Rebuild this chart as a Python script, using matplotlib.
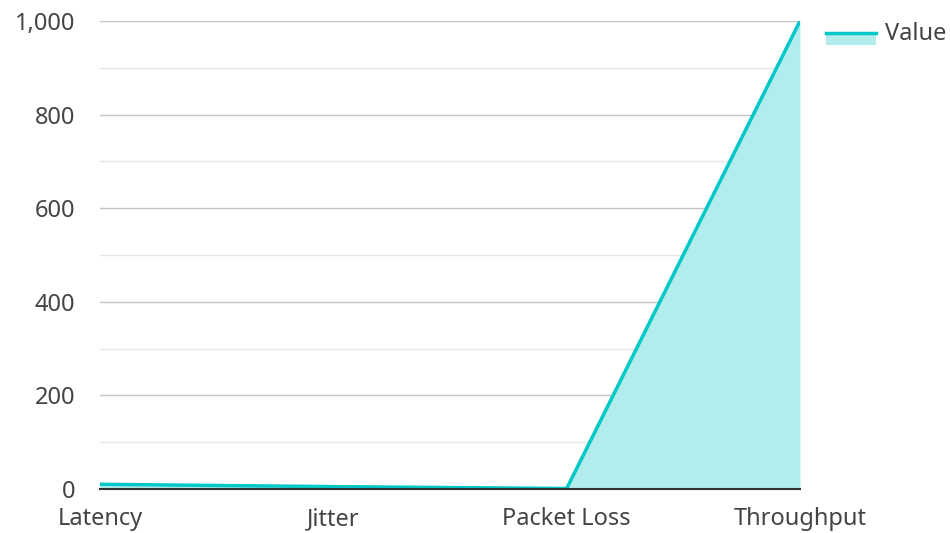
import matplotlib.pyplot as plt
from matplotlib.patches import Rectangle
from matplotlib.lines import Line2D
from matplotlib.ticker import MultipleLocator, FuncFormatter

plt.rcParams['font.family'] = ['Noto Sans', 'DejaVu Sans']

metrics = ['Latency', 'Jitter', 'Packet Loss', 'Throughput']
values = [10, 5, 1, 1000]

line_col = '#00c8c8'
fill_col = '#b2ecec'
text_col = '#444444'
fs = 17

fig = plt.figure(figsize=(9.5, 5.33), dpi=100)
ax = fig.add_axes([0.1053, 0.0826, 0.7368, 0.878])

x = range(len(metrics))
ax.fill_between(x, values, 0, color=fill_col, lw=0, zorder=2)
ax.plot(x, values, color=line_col, lw=2.5, zorder=3)

ax.set_xlim(0, len(metrics) - 1)
ax.set_ylim(0, 1000)
ax.yaxis.set_major_locator(MultipleLocator(200))
ax.yaxis.set_minor_locator(MultipleLocator(100))
ax.yaxis.set_major_formatter(FuncFormatter(lambda v, p: f'{int(v):,}'))
ax.grid(axis='y', which='major', color='#c4c4c4', lw=1, zorder=1)
ax.grid(axis='y', which='minor', color='#e6e6e6', lw=1, zorder=1)

ax.set_xticks(list(x))
ax.set_xticklabels(metrics)
ax.tick_params(axis='both', which='both', length=0, labelsize=fs, labelcolor=text_col)
ax.tick_params(axis='x', pad=13)
ax.tick_params(axis='y', pad=18)

for s in ['top', 'right', 'left']:
    ax.spines[s].set_visible(False)
ax.spines['bottom'].set_color('#333333')
ax.spines['bottom'].set_linewidth(1.5)
ax.spines['bottom'].set_zorder(4)

# legend key: light band with line along its top
fig.add_artist(Rectangle((826 / 950, 1 - 45 / 533), 50 / 950, 11 / 533,
                         transform=fig.transFigure, color=fill_col, lw=0))
fig.add_artist(Line2D([826 / 950, 876 / 950], [1 - 33 / 533, 1 - 33 / 533],
                      transform=fig.transFigure, color=line_col, lw=2.5))
fig.text(885 / 950, 1 - 34 / 533, 'Value', fontsize=fs, color=text_col,
         va='center', ha='left')

fig.savefig('out.png', dpi=100)
